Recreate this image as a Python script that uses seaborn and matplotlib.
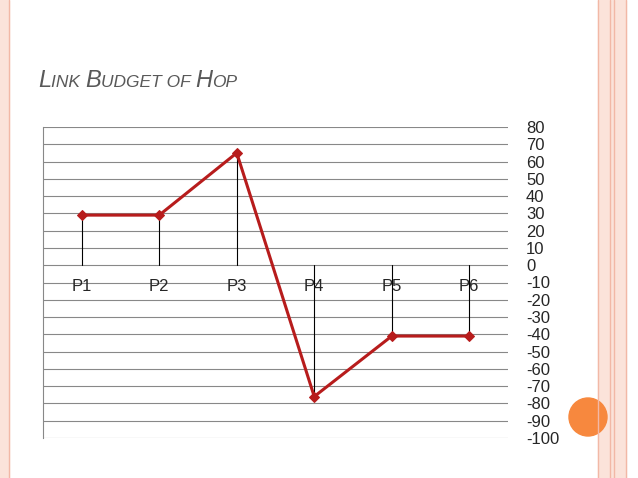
import matplotlib
matplotlib.use("Agg")
import matplotlib.pyplot as plt
import seaborn as sns
import pandas as pd
from matplotlib.patches import Rectangle, Circle

categories = ["P1", "P2", "P3", "P4", "P5", "P6"]
values = [29, 29, 65, -76, -41, -41]
yticks = list(range(-100, 81, 10))

sns.set_style("white")
plt.rcParams['font.family'] = ['Liberation Sans', 'DejaVu Sans']
plt.rcParams['axes.unicode_minus'] = False
W, H = 638, 478
fig = plt.figure(figsize=(W/100, H/100), dpi=100)

bg = fig.add_axes([0, 0, 1, 1]); bg.set_xlim(0, W); bg.set_ylim(H, 0); bg.axis('off')
bg.add_patch(Rectangle((0, 0), 9, H, color='#fbe3da'))
bg.plot([9, 9], [0, H], color='#f2b8a6', lw=1)
bg.add_patch(Rectangle((598, 0), 28, H, color='#fbe3da'))
for x in (598, 610, 614, 626):
    bg.plot([x, x], [0, H], color='#f2b8a6', lw=1)
bg.add_patch(Circle((588, 417), 19, color='#f7883e'))

# title in small caps, placed piece by piece
renderer = fig.canvas.get_renderer()
pieces = [("L", 17), ("INK ", 12.5), ("B", 17), ("UDGET OF ", 12.5), ("H", 17), ("OP", 12.5)]
xpos = 38
for s, fs in pieces:
    t = bg.text(xpos, 87, s, fontsize=fs, color='#595959', style='italic', va='baseline')
    bb = t.get_window_extent(renderer=renderer)
    xpos += bb.width

x0, x1, y0, y1 = 43, 508, 127, 438
ax = fig.add_axes([x0/W, 1-y1/H, (x1-x0)/W, (y1-y0)/H])
df = pd.DataFrame({"x": [i + 0.5 for i in range(len(categories))], "v": values})
for xi, v in zip(df.x, df.v):
    ax.plot([xi, xi], [0, v], color='black', lw=0.8)
sns.lineplot(data=df, x="x", y="v", ax=ax, color='#b71c1c', lw=2.2,
             marker='D', markersize=5, markeredgecolor='#b71c1c')
ax.set_xlim(0, 6); ax.set_ylim(-100, 80)
ax.set_yticks(yticks)
for t in yticks:
    ax.axhline(t, color='#888888', lw=0.8, zorder=0)
ax.yaxis.tick_right()
ax.tick_params(axis='y', length=0, labelsize=12, pad=13)
ax.set_xticks([]); ax.set_xlabel(""); ax.set_ylabel("")
for s in ax.spines.values():
    s.set_visible(False)
ax.spines['left'].set_visible(True); ax.spines['left'].set_color('#888888')
for xi, c in zip(df.x, categories):
    ax.text(xi, -8, c, ha='center', va='top', fontsize=12)
fig.savefig("out.png", dpi=100)
